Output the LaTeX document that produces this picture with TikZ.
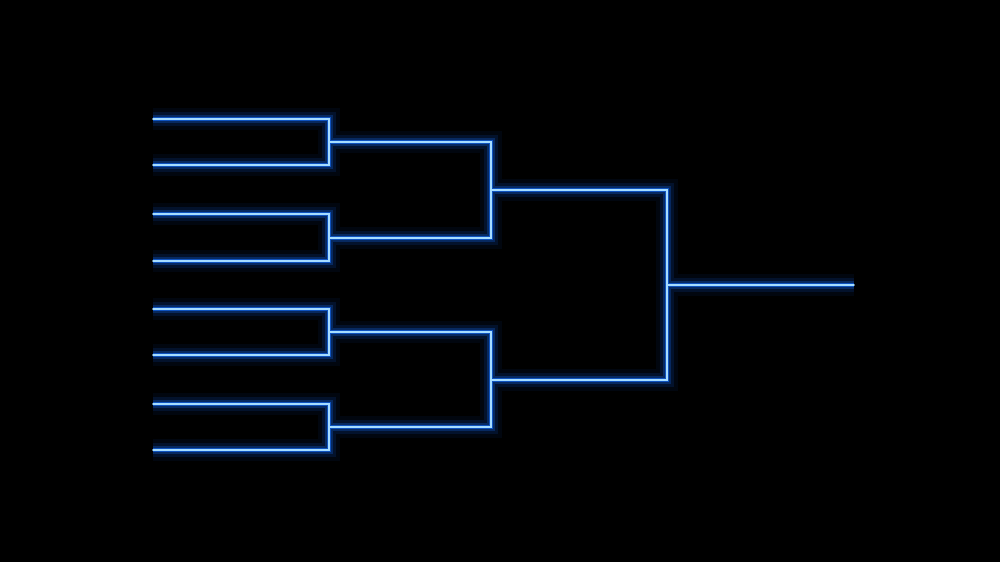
\documentclass[tikz,border=0pt]{standalone}
\usepackage{tikz}
\usetikzlibrary{calc}
\definecolor{neoncore}{RGB}{165,220,255}
\definecolor{neonglow}{RGB}{20,110,255}
\tikzset{
  neon/.style={draw=neoncore,line width=1.6pt,line cap=round,
    preaction={draw=neonglow,line width=22pt,opacity=0.06},
    preaction={draw=neonglow,line width=14pt,opacity=0.12},
    preaction={draw=neonglow,line width=8pt,opacity=0.25},
    preaction={draw=neonglow,line width=4pt,opacity=0.6}}
}
\begin{document}
\begin{tikzpicture}[x=1pt,y=-1pt]
		\fill[black] (0,0) rectangle (1000,562);
		\useasboundingbox (0,0) rectangle (1000,562);
		% first round
		\coordinate (S1) at (153,119);
		\coordinate (S2) at (153,165);
		\coordinate (S3) at (153,214);
		\coordinate (S4) at (153,261);
		\coordinate (S5) at (153,309);
		\coordinate (S6) at (153,355);
		\coordinate (S7) at (153,404);
		\coordinate (S8) at (153,450);
		% second round
		\coordinate (M1) at (329,142);
		\coordinate (M2) at (329,238);
		\coordinate (M3) at (329,332);
		\coordinate (M4) at (329,427);
		% semi final
		\coordinate (Q1) at (491,190);
		\coordinate (Q2) at (491,380);
		% final
		\coordinate (F) at (667,285);
		\coordinate (W) at (854,285);
		%
		\path[neon]
		% first round pairs
		(S1) -| (M1) |- (S2)
		(S3) -| (M2) |- (S4)
		(S5) -| (M3) |- (S6)
		(S7) -| (M4) |- (S8)
		% second round pairs
		(M1) -| (Q1) |- (M2)
		(M3) -| (Q2) |- (M4)
		% semi final pair
		(Q1) -| (F) |- (Q2)
		% winner
		(F) -- (W);
\end{tikzpicture}
\end{document}
